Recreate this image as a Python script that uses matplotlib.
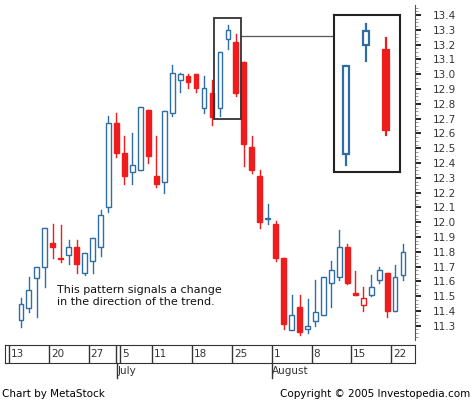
import matplotlib.pyplot as plt
from matplotlib.patches import Rectangle
from matplotlib.ticker import MultipleLocator
import numpy as np

# daily candles: open, close, high, low
opens = [11.34, 11.42, 11.62, 11.70, 11.86, 11.76, 11.78, 11.83, 11.66, 11.74,
         11.83, 12.10, 12.67, 12.47, 12.34, 12.35, 12.76, 12.31, 12.27, 12.74,
         12.96, 12.99, 13.00, 12.77, 12.87, 12.77, 13.24, 13.22, 13.08, 12.51,
         12.31, 12.02, 11.99, 11.76, 11.27, 11.43, 11.28, 11.33, 11.37, 11.59,
         11.63, 11.83, 11.52, 11.49, 11.51, 11.61, 11.66, 11.40, 11.64]
closes = [11.45, 11.54, 11.70, 11.96, 11.83, 11.75, 11.83, 11.72, 11.79, 11.89,
          12.05, 12.67, 12.47, 12.31, 12.39, 12.78, 12.45, 12.26, 12.75, 13.01,
          13.00, 12.95, 12.91, 12.91, 12.71, 13.15, 13.30, 12.87, 12.53, 12.35,
          12.00, 12.03, 11.76, 11.31, 11.37, 11.26, 11.30, 11.39, 11.63, 11.68,
          11.83, 11.59, 11.51, 11.44, 11.56, 11.68, 11.40, 11.63, 11.80]
highs = [11.49, 11.63, 11.70, 11.96, 11.99, 11.98, 11.88, 11.88, 11.79, 11.89,
         12.08, 12.72, 12.74, 12.58, 12.60, 12.78, 12.76, 12.58, 12.75, 13.06,
         13.01, 13.00, 13.00, 12.99, 12.96, 13.15, 13.33, 13.27, 13.08, 12.58,
         12.35, 12.12, 12.01, 11.76, 11.51, 11.51, 11.48, 11.61, 11.63, 11.74,
         11.95, 11.85, 11.67, 11.56, 11.64, 11.70, 11.66, 11.71, 11.85]
lows = [11.29, 11.39, 11.36, 11.56, 11.76, 11.73, 11.72, 11.66, 11.64, 11.66,
        11.77, 12.07, 12.44, 12.26, 12.26, 12.35, 12.40, 12.24, 12.20, 12.72,
        12.88, 12.91, 12.88, 12.74, 12.66, 12.72, 13.17, 12.85, 12.38, 12.33,
        11.96, 11.99, 11.74, 11.28, 11.27, 11.24, 11.25, 11.30, 11.37, 11.43,
        11.61, 11.58, 11.51, 11.40, 11.50, 11.59, 11.36, 11.40, 11.61]
hollow_red = [43]

tick_pos = [-1.5, 3.5, 8.5, 12.5, 16.5, 21.5, 26.5, 31.5, 36.5, 41.5, 46.5]
tick_labels = ["13", "20", "27", "5", "11", "18", "25", "1", "8", "15", "22"]
months = [(12.1, "July"), (31.5, "August")]

BLUE = "#2f6ea5"
RED = "#ee1c1c"
XLIM = (-2.0, 49.5)


def draw_candles(ax, idx, width=0.6, lw=1.0):
    for i in idx:
        o, c, h, l = opens[i], closes[i], highs[i], lows[i]
        up = c >= o
        col = BLUE if up else RED
        ax.plot([i, i], [l, h], color=col, lw=lw, zorder=1)
        bot, top = min(o, c), max(o, c)
        hgt = max(top - bot, 0.008)
        face = "white" if (up or i in hollow_red) else RED
        ax.add_patch(Rectangle((i - width / 2, bot), width, hgt,
                               facecolor=face, edgecolor=col, lw=lw, zorder=2))


fig = plt.figure(figsize=(4.72, 4.05), dpi=100)
W, H = 472, 405


def px(x0, y0, x1, y1):
    return [x0 / W, 1 - y1 / H, (x1 - x0) / W, (y1 - y0) / H]


ax = fig.add_axes(px(5, 5, 415, 340))
draw_candles(ax, range(len(opens)))
ax.set_xlim(XLIM)
ax.set_ylim(11.204, 13.468)
ax.set_xticks([])
ax.yaxis.tick_right()
ax.yaxis.set_minor_locator(MultipleLocator(0.025))
ax.set_yticks(np.round(np.arange(11.3, 13.41, 0.1), 1))
ax.set_yticklabels(["%.1f" % v for v in np.arange(11.3, 13.41, 0.1)])
ax.tick_params(axis="y", which="major", length=4, width=1.2, labelsize=7.5,
               labelcolor="#333333", pad=9)
ax.tick_params(axis="y", which="minor", length=2, color="#888888")
for s in ["top", "left", "bottom"]:
    ax.spines[s].set_visible(False)
ax.spines["right"].set_color("#555555")

# highlight box around the pattern
ax.add_patch(Rectangle((24.2, 12.70), 3.5, 0.68, fill=False,
                       edgecolor="#333333", lw=1.3, zorder=3))
ax.plot([27.7, 39.9], [13.26, 13.26], color="#555555", lw=0.9)

ax.text(4.5, 11.50, "This pattern signals a change\nin the direction of the trend.",
        fontsize=8, color="#111111", linespacing=1.2, va="center")

# zoomed inset
ins = fig.add_axes(px(334, 15, 400, 172))
draw_candles(ins, [25, 26, 27], width=0.32, lw=1.6)
ins.set_xlim(24.4, 27.7)
ins.set_ylim(12.69, 13.37)
ins.set_xticks([])
ins.set_yticks([])
for s in ins.spines.values():
    s.set_linewidth(1.5)
    s.set_color("#222222")

# date strip
dax = fig.add_axes(px(5, 345, 415, 363))
dax.set_xlim(XLIM)
dax.set_ylim(0, 1)
dax.set_xticks([])
dax.set_yticks([])
for s in dax.spines.values():
    s.set_color("#333333")
for p, lab in zip(tick_pos, tick_labels):
    dax.axvline(p, color="#333333", lw=1)
    dax.text(p + 0.25, 0.5, lab, fontsize=7.5, va="center", color="#333333")
dax.axvline(12.0, color="#333333", lw=1)
for p, lab in months:
    xf = (5 + (p - XLIM[0]) / (XLIM[1] - XLIM[0]) * 410) / W
    fig.text(xf, 1 - 371 / H, lab, fontsize=7.5, va="center", color="#333333")
    fig.add_artist(plt.Line2D([xf, xf], [1 - 363 / H, 1 - 378 / H],
                              color="#333333", lw=1))

fig.text(2 / W, 1 - 394 / H, "Chart by MetaStock", fontsize=7.5, va="center")
fig.text(470 / W, 1 - 394 / H, "Copyright \u00a9 2005 Investopedia.com",
         fontsize=7.5, va="center", ha="right")

fig.savefig("out.png", dpi=100)
